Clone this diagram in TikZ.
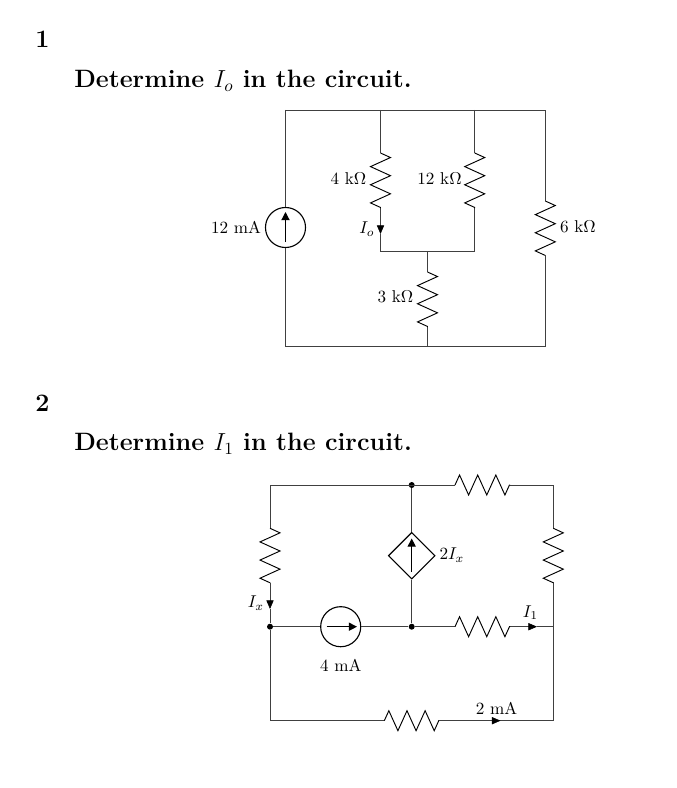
\documentclass[tikz,border=0pt]{standalone}
\usepackage{amsmath}
\usetikzlibrary{arrows.meta, decorations.pathmorphing, shapes.geometric}
\tikzset{
    wire/.style={line width=0.35pt, draw=black!75},
    res/.style={line width=0.55pt, decorate, decoration={zigzag, segment length=10.6pt, amplitude=5.84pt}},
    source/.style={circle, draw, line width=0.65pt, minimum size=23.4pt, inner sep=0pt},
    depsource/.style={diamond, draw, line width=0.65pt, minimum width=27.3pt, minimum height=27.3pt, inner sep=0pt},
    dot/.style={circle, fill=black, minimum size=3.5pt, inner sep=0pt},
    tip/.style={wire, -{Triangle[length=5pt, width=4.2pt, color=black]}},
    srctip/.style={line width=0.65pt, -{Triangle[length=4.8pt, width=4.8pt]}},
    heading/.style={anchor=base west, inner sep=0pt, font=\fontsize{14.66}{18}\selectfont\bfseries},
    title/.style={anchor=base west, inner sep=0pt, font=\fontsize{14.66}{18}\selectfont\bfseries}
}
\begin{document}
\begin{tikzpicture}[x=0.584pt, y=-0.584pt]
        \useasboundingbox (0, 0) rectangle (676, 788);
        \node[heading] (Number One) at (35, 48) {1};
        \node[title] (Title One) at (74, 87.5) {Determine $I_o$ in the circuit.};
        \node[heading] (Number Two) at (35, 411) {2};
        \node[title] (Title Two) at (74, 450.5) {Determine $I_1$ in the circuit.};

        \coordinate (A Top Left) at (285.5, 110);
        \coordinate (A Top Four) at (380.5, 110);
        \coordinate (A Top Twelve) at (474.7, 110);
        \coordinate (A Top Right) at (545.3, 110);
        \coordinate (A Bottom Left) at (285.5, 346);
        \coordinate (A Bottom Three) at (427.5, 346);
        \coordinate (A Bottom Right) at (545.3, 346);
        \coordinate (A Mid Four) at (380.5, 251.7);
        \coordinate (A Mid Three) at (427.5, 251.7);
        \coordinate (A Mid Twelve) at (474.7, 251.7);
        \coordinate (Four In) at (380.5, 153);
        \coordinate (Four Out) at (380.5, 208);
        \coordinate (Twelve In) at (474.7, 153);
        \coordinate (Twelve Out) at (474.7, 208);
        \coordinate (Six In) at (545.3, 201);
        \coordinate (Six Out) at (545.3, 255.5);
        \coordinate (Three In) at (427.5, 272);
        \coordinate (Three Out) at (427.5, 327);
        \coordinate (Io Tip) at (380.5, 234);
        \coordinate (Ma Tail) at (285.5, 242);
        \coordinate (Ma Head) at (285.5, 212);
        \node[source] (Twelve Source) at (285.5, 227.5) {};
        \draw[wire] (A Top Left) -- (A Top Right) -- (Six In);
        \draw[wire] (A Top Left) -- (Twelve Source);
        \draw[wire] (Twelve Source) -- (A Bottom Left) -- (A Bottom Right) -- (Six Out);
        \draw[wire] (A Top Four) -- (Four In);
        \draw[wire] (A Top Twelve) -- (Twelve In);
        \draw[tip] (Four Out) -- (Io Tip);
        \draw[wire] (Io Tip) -- (A Mid Four) -- (A Mid Twelve) -- (Twelve Out);
        \draw[wire] (A Mid Three) -- (Three In);
        \draw[wire] (Three Out) -- (A Bottom Three);
        \draw[res] (Four In) -- (Four Out);
        \draw[res] (Twelve In) -- (Twelve Out);
        \draw[res] (Six In) -- (Six Out);
        \draw[res] (Three In) -- (Three Out);
        \draw[srctip] (Ma Tail) -- (Ma Head);
        \node (Label Twelve Ma) at (236, 227) {12 mA};
        \node (Label Four) at (348.5, 179) {4 k$\Omega$};
        \node (Label Twelve) at (439.5, 179) {12 k$\Omega$};
        \node (Label Six) at (578, 227) {6 k$\Omega$};
        \node (Label Three) at (395.5, 297) {3 k$\Omega$};
        \node (Label Io) at (367, 229) {$I_o$};

        \coordinate (B Top Left) at (270, 485);
        \coordinate (B Top Right) at (553.3, 485);
        \coordinate (B Mid Right) at (553.3, 626.7);
        \coordinate (B Bottom Left) at (270, 720.7);
        \coordinate (B Bottom Right) at (553.3, 720.7);
        \node[dot] (B Top Dot) at (411.7, 485) {};
        \node[dot] (B Mid Dot) at (411.7, 626.7) {};
        \node[dot] (B Left Dot) at (270, 626.7) {};
        \coordinate (Left In) at (270, 528.3);
        \coordinate (Left Out) at (270, 583);
        \coordinate (Right In) at (553.3, 528.3);
        \coordinate (Right Out) at (553.3, 583);
        \coordinate (Upper In) at (455, 485);
        \coordinate (Upper Out) at (510, 485);
        \coordinate (Middle In) at (455, 626.7);
        \coordinate (Middle Out) at (510, 626.7);
        \coordinate (Lower In) at (384.3, 720.7);
        \coordinate (Lower Out) at (439, 720.7);
        \coordinate (Ix Tip) at (270, 609);
        \coordinate (I1 Tip) at (537, 626.7);
        \coordinate (Two Ma Tip) at (500.5, 720.7);
        \coordinate (Dep Tail) at (411.7, 572);
        \coordinate (Dep Head) at (411.7, 538.5);
        \coordinate (Four Tail) at (326.7, 626.7);
        \coordinate (Four Head) at (357, 626.7);
        \node[depsource] (Dep Source) at (411.7, 555.7) {};
        \node[source] (Four Source) at (340.7, 626.7) {};
        \draw[wire] (Upper In) -- (B Top Left) -- (Left In);
        \draw[wire] (Upper Out) -- (B Top Right) -- (Right In);
        \draw[wire] (Right Out) -- (B Bottom Right) -- (Lower Out);
        \draw[wire] (Lower In) -- (B Bottom Left) -- (B Left Dot);
        \draw[tip] (Left Out) -- (Ix Tip);
        \draw[wire] (Ix Tip) -- (B Left Dot);
        \draw[wire] (B Left Dot) -- (Four Source);
        \draw[wire] (Four Source) -- (B Mid Dot);
        \draw[wire] (B Mid Dot) -- (Middle In);
        \draw[tip] (Middle Out) -- (I1 Tip);
        \draw[wire] (I1 Tip) -- (B Mid Right);
        \draw[wire] (B Top Dot) -- (Dep Source);
        \draw[wire] (Dep Source) -- (B Mid Dot);
        \draw[tip] (Lower Out) -- (Two Ma Tip);
        \draw[res] (Left In) -- (Left Out);
        \draw[res] (Right In) -- (Right Out);
        \draw[res] (Upper In) -- (Upper Out);
        \draw[res] (Middle In) -- (Middle Out);
        \draw[res] (Lower In) -- (Lower Out);
        \draw[srctip] (Dep Tail) -- (Dep Head);
        \draw[srctip] (Four Tail) -- (Four Head);
        \node (Label Dep) at (452, 555) {$2I_x$};
        \node (Label Ix) at (256, 603) {$I_x$};
        \node (Label I1) at (530.5, 612.7) {$I_1$};
        \node (Label Four Ma) at (340.7, 665) {4 mA};
        \node (Label Two Ma) at (496.5, 708) {2 mA};
    \end{tikzpicture}
\end{document}
